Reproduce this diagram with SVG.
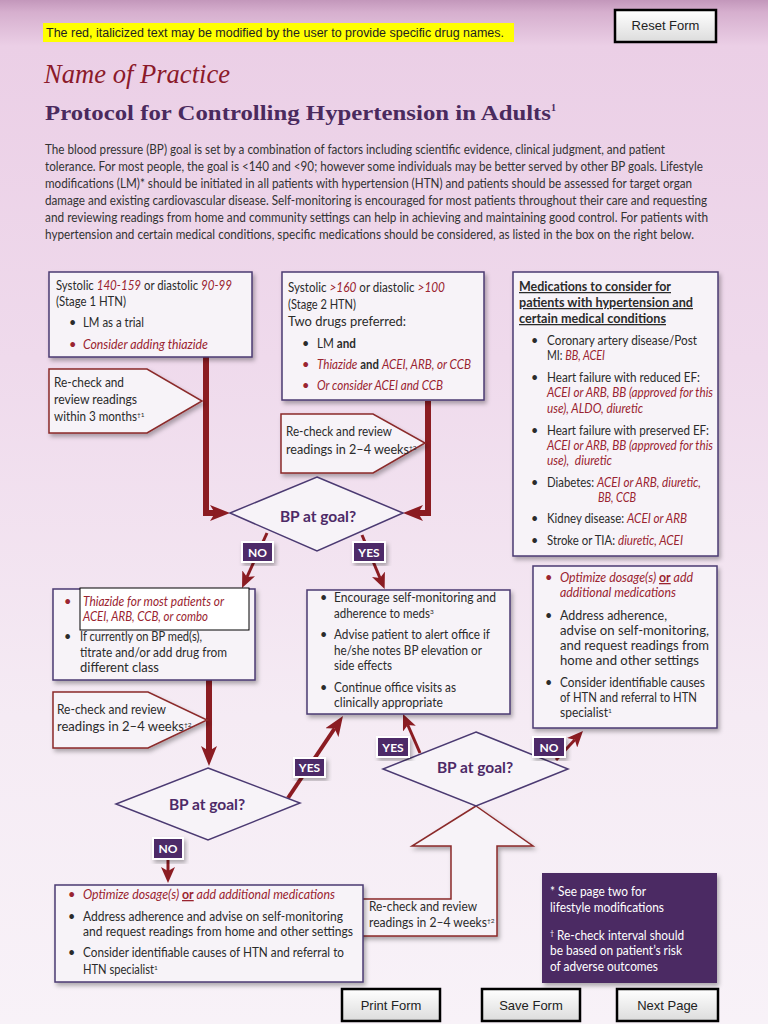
<svg xmlns="http://www.w3.org/2000/svg" width="768" height="1024" viewBox="0 0 768 1024">
<defs>
<linearGradient id="bg" x1="0" y1="0" x2="0" y2="1">
<stop offset="0" stop-color="#c397bb"/>
<stop offset="0.012" stop-color="#d6afce"/>
<stop offset="0.045" stop-color="#ebcfe6"/>
<stop offset="0.35" stop-color="#efdaec"/>
<stop offset="0.7" stop-color="#f5ebf4"/>
<stop offset="1" stop-color="#f8f2f8"/>
</linearGradient>
<linearGradient id="btn" x1="0" y1="0" x2="0" y2="1">
<stop offset="0" stop-color="#ffffff"/>
<stop offset="1" stop-color="#dcdcdc"/>
</linearGradient>
<filter id="sh" x="-10%" y="-10%" width="130%" height="130%">
<feDropShadow dx="2" dy="3" stdDeviation="2" flood-color="#000" flood-opacity="0.3"/>
</filter>
<marker id="ah" viewBox="0 0 20 16" refX="5" refY="8" markerWidth="20" markerHeight="16" markerUnits="userSpaceOnUse" orient="auto">
<path d="M0,0 L20,8 L0,16 L5,8 z" fill="#8b1c22"/>
</marker>
<marker id="as" viewBox="0 0 16 14" refX="4" refY="7" markerWidth="16" markerHeight="14" markerUnits="userSpaceOnUse" orient="auto">
<path d="M0,0 L16,7 L0,14 L4,7 z" fill="#8b1c22"/>
</marker>
<style>
.t{font-family:Lato,"Noto Sans",sans-serif;font-size:12.5px;fill:#2b2b2b}
.p{font-size:12.4px;fill:#333}
.r{fill:#9a2430;font-style:italic;font-size:12.8px}
.b{font-weight:bold}
.u{text-decoration:underline}
.sup{font-size:6.5px}
.box{fill:#f7f3f8;stroke:#4b3a72;stroke-width:1.5}
.pent{fill:#f7f3f8;stroke:#8b2a2a;stroke-width:1.5}
.dia{fill:#f7f3f8;stroke:#4b3a72;stroke-width:1.5}
.dt{font-family:Lato,"Noto Sans",sans-serif;font-weight:bold;font-size:15.5px;fill:#4d2a67;text-anchor:middle}
.lbr{fill:#4d2a67;stroke:#ffffff;stroke-width:2}
.lb{font-family:Lato,"Noto Sans",sans-serif;font-weight:bold;font-size:12px;fill:#ffffff;text-anchor:middle}
.thick{fill:none;stroke:#8b1c22;stroke-width:6;marker-end:url(#ah)}
.mid{fill:none;stroke:#8b1c22;stroke-width:4;marker-end:url(#ah)}
.thin{fill:none;stroke:#8b1c22;stroke-width:3;marker-end:url(#as)}
.btnr{fill:url(#btn);stroke:#000;stroke-width:2.5}
.bt{font-family:"Liberation Sans",Arial,sans-serif;font-size:13px;fill:#222;text-anchor:middle}
.fn{font-family:Lato,"Noto Sans",sans-serif;font-size:12.5px;fill:#ffffff}
</style>
</defs>

<rect x="0" y="0" width="768" height="1024" fill="url(#bg)"/>

<g id="header">
<rect x="43" y="23" width="471" height="19" fill="#ffff00"/>
<text x="46" y="37" font-family="'Liberation Sans',Arial,sans-serif" font-size="12" fill="#222" textLength="458" lengthAdjust="spacingAndGlyphs">The red, italicized text may be modified by the user to provide specific drug names.</text>
<text x="44" y="83" font-family="'Liberation Serif','Times New Roman',serif" font-size="27" font-style="italic" fill="#8b1a2a" textLength="186" lengthAdjust="spacingAndGlyphs">Name of Practice</text>
<text x="45" y="120" font-family="'Liberation Serif','Times New Roman',serif" font-size="22" font-weight="bold" fill="#4a2a5e"><tspan textLength="506" lengthAdjust="spacingAndGlyphs">Protocol for Controlling Hypertension in Adults</tspan><tspan font-size="10" dy="-9">1</tspan></text>
</g>

<g id="intro">
<text class="t p" x="45" y="154" textLength="620" lengthAdjust="spacingAndGlyphs">The blood pressure (BP) goal is set by a combination of factors including scientific evidence, clinical judgment, and patient</text>
<text class="t p" x="45" y="171" textLength="658" lengthAdjust="spacingAndGlyphs">tolerance. For most people, the goal is &lt;140 and &lt;90; however some individuals may be better served by other BP goals. Lifestyle</text>
<text class="t p" x="45" y="188" textLength="647" lengthAdjust="spacingAndGlyphs">modifications (LM)* should be initiated in all patients with hypertension (HTN) and patients should be assessed for target organ</text>
<text class="t p" x="45" y="205" textLength="662" lengthAdjust="spacingAndGlyphs">damage and existing cardiovascular disease. Self-monitoring is encouraged for most patients throughout their care and requesting</text>
<text class="t p" x="45" y="222" textLength="663" lengthAdjust="spacingAndGlyphs">and reviewing readings from home and community settings can help in achieving and maintaining good control. For patients with</text>
<text class="t p" x="45" y="239" textLength="649" lengthAdjust="spacingAndGlyphs">hypertension and certain medical conditions, specific medications should be considered, as listed in the box on the right below.</text>
</g>

<g id="connectors">
<path class="thick" d="M206,357 V513 H215"/>
<path class="thick" d="M428,401 V513 H418"/>
<path class="thin" d="M267,533 L247,577"/>
<path class="thin" d="M362,535 L380,578"/>
<path class="thick" d="M209,680 V751"/>
<path class="mid" d="M288,798 L334.6,728.5"/>
<path class="thin" d="M168,840 V871"/>
<path class="thin" d="M420,753 L407.8,725"/>
<path class="thin" d="M556,760 L574.8,739.8"/>
</g>

<g id="stage1">
<rect class="box" x="49" y="272" width="203" height="85" filter="url(#sh)"/>
<text class="t" x="56" y="290" textLength="176" lengthAdjust="spacingAndGlyphs">Systolic <tspan class="r">140-159</tspan> or diastolic <tspan class="r">90-99</tspan></text>
<text class="t" x="56" y="306" textLength="70" lengthAdjust="spacingAndGlyphs">(Stage 1 HTN)</text>
<text class="t" x="69" y="327">•</text>
<text class="t" x="83" y="327" textLength="61" lengthAdjust="spacingAndGlyphs">LM as a trial</text>
<text class="t r" x="69" y="349">•</text>
<text class="t r" x="83" y="349" textLength="125" lengthAdjust="spacingAndGlyphs">Consider adding thiazide</text>
</g>

<g id="recheck1">
<polygon class="pent" points="49,369 147,369 202,401 147,433 49,433" filter="url(#sh)"/>
<text class="t" x="54" y="387" textLength="70" lengthAdjust="spacingAndGlyphs">Re-check and</text>
<text class="t" x="54" y="404" textLength="83" lengthAdjust="spacingAndGlyphs">review readings</text>
<text class="t" x="54" y="421"><tspan textLength="83" lengthAdjust="spacingAndGlyphs">within 3 months</tspan><tspan class="sup" dy="-4">†1</tspan></text>
</g>

<g id="stage2">
<rect class="box" x="282" y="272" width="202" height="128" filter="url(#sh)"/>
<text class="t" x="288" y="292" textLength="157" lengthAdjust="spacingAndGlyphs">Systolic <tspan class="r">&gt;160</tspan> or diastolic <tspan class="r">&gt;100</tspan></text>
<text class="t" x="288" y="309" textLength="68" lengthAdjust="spacingAndGlyphs">(Stage 2 HTN)</text>
<text class="t" x="288" y="326" textLength="118" lengthAdjust="spacingAndGlyphs">Two drugs preferred:</text>
<text class="t" x="302" y="348">•</text>
<text class="t" x="317" y="348" textLength="39" lengthAdjust="spacingAndGlyphs">LM <tspan class="b">and</tspan></text>
<text class="t r" x="302" y="369">•</text>
<text class="t" x="317" y="369" textLength="154" lengthAdjust="spacingAndGlyphs"><tspan class="r">Thiazide</tspan> <tspan class="b">and</tspan> <tspan class="r">ACEI, ARB, or CCB</tspan></text>
<text class="t r" x="302" y="390">•</text>
<text class="t r" x="317" y="390" textLength="126" lengthAdjust="spacingAndGlyphs">Or consider ACEI and CCB</text>
</g>

<g id="recheck2">
<polygon class="pent" points="281,414 373,414 425,443 373,473 281,473" filter="url(#sh)"/>
<text class="t" x="286" y="436" textLength="106" lengthAdjust="spacingAndGlyphs">Re-check and review</text>
<text class="t" x="286" y="454"><tspan textLength="123" lengthAdjust="spacingAndGlyphs">readings in 2–4 weeks</tspan><tspan class="sup" dy="-4">†2</tspan></text>
</g>

<g id="medications">
<rect class="box" x="513" y="272" width="205" height="284" filter="url(#sh)"/>
<text class="t b u" x="519" y="291" textLength="152" lengthAdjust="spacingAndGlyphs">Medications to consider for</text>
<text class="t b u" x="519" y="307" textLength="174" lengthAdjust="spacingAndGlyphs">patients with hypertension and</text>
<text class="t b u" x="519" y="323" textLength="147" lengthAdjust="spacingAndGlyphs">certain medical conditions</text>
<text class="t" x="531" y="345">•</text>
<text class="t" x="547" y="345" textLength="150" lengthAdjust="spacingAndGlyphs">Coronary artery disease/Post</text>
<text class="t" x="547" y="360" textLength="58" lengthAdjust="spacingAndGlyphs">MI: <tspan class="r">BB, ACEI</tspan></text>
<text class="t" x="531" y="382">•</text>
<text class="t" x="547" y="382" textLength="153" lengthAdjust="spacingAndGlyphs">Heart failure with reduced EF:</text>
<text class="t r" x="547" y="397" textLength="166" lengthAdjust="spacingAndGlyphs">ACEI or ARB, BB (approved for this</text>
<text class="t r" x="547" y="413" textLength="96" lengthAdjust="spacingAndGlyphs">use), ALDO, diuretic</text>
<text class="t" x="531" y="435">•</text>
<text class="t" x="547" y="435" textLength="162" lengthAdjust="spacingAndGlyphs">Heart failure with preserved EF:</text>
<text class="t r" x="547" y="450" textLength="166" lengthAdjust="spacingAndGlyphs">ACEI or ARB, BB (approved for this</text>
<text class="t r" x="547" y="465" xml:space="preserve" textLength="65" lengthAdjust="spacingAndGlyphs">use),  diuretic</text>
<text class="t" x="531" y="487">•</text>
<text class="t" x="547" y="487" textLength="154" lengthAdjust="spacingAndGlyphs">Diabetes: <tspan class="r">ACEI or ARB, diuretic,</tspan></text>
<text class="t r" x="598" y="502" textLength="38" lengthAdjust="spacingAndGlyphs">BB, CCB</text>
<text class="t" x="531" y="523">•</text>
<text class="t" x="547" y="523" textLength="140" lengthAdjust="spacingAndGlyphs">Kidney disease: <tspan class="r">ACEI or ARB</tspan></text>
<text class="t" x="531" y="545">•</text>
<text class="t" x="547" y="545" textLength="136" lengthAdjust="spacingAndGlyphs">Stroke or TIA: <tspan class="r">diuretic, ACEI</tspan></text>
</g>

<g id="goal1">
<polygon class="dia" points="317,477 403,513 317,551 230,513"/>
<text class="dt" x="318" y="522">BP at goal?</text>
</g>

<g id="treat">
<rect class="box" x="53" y="589" width="202" height="91" filter="url(#sh)"/>
<rect x="80" y="588" width="169" height="42" fill="#ffffff" stroke="#000" stroke-width="1"/>
<text class="t r" x="64" y="606">•</text>
<text class="t r" x="83" y="606" textLength="141" lengthAdjust="spacingAndGlyphs">Thiazide for most patients or</text>
<text class="t r" x="83" y="621" textLength="125" lengthAdjust="spacingAndGlyphs">ACEI, ARB, CCB, or combo</text>
<text class="t" x="64" y="641">•</text>
<text class="t" x="80" y="641" textLength="122" lengthAdjust="spacingAndGlyphs">If currently on BP med(s),</text>
<text class="t" x="80" y="657" textLength="147" lengthAdjust="spacingAndGlyphs">titrate and/or add drug from</text>
<text class="t" x="80" y="672" textLength="79" lengthAdjust="spacingAndGlyphs">different class</text>
</g>

<g id="maintain">
<rect class="box" x="307" y="590" width="203" height="124" filter="url(#sh)"/>
<text class="t" x="320" y="602">•</text>
<text class="t" x="334" y="602" textLength="162" lengthAdjust="spacingAndGlyphs">Encourage self-monitoring and</text>
<text class="t" x="334" y="618"><tspan textLength="96" lengthAdjust="spacingAndGlyphs">adherence to meds</tspan><tspan class="sup" dy="-4">3</tspan></text>
<text class="t" x="320" y="639">•</text>
<text class="t" x="334" y="639" textLength="156" lengthAdjust="spacingAndGlyphs">Advise patient to alert office if</text>
<text class="t" x="334" y="655" textLength="148" lengthAdjust="spacingAndGlyphs">he/she notes BP elevation or</text>
<text class="t" x="334" y="670" textLength="58" lengthAdjust="spacingAndGlyphs">side effects</text>
<text class="t" x="320" y="692">•</text>
<text class="t" x="334" y="692" textLength="122" lengthAdjust="spacingAndGlyphs">Continue office visits as</text>
<text class="t" x="334" y="707" textLength="109" lengthAdjust="spacingAndGlyphs">clinically appropriate</text>
</g>

<g id="optimize-right">
<rect class="box" x="533" y="566" width="184" height="162" filter="url(#sh)"/>
<text class="t r" x="545" y="582">•</text>
<text class="t r" x="560" y="582" textLength="133" lengthAdjust="spacingAndGlyphs">Optimize dosage(s) <tspan font-style="normal" class="b u">or</tspan> add</text>
<text class="t r" x="560" y="597" textLength="116" lengthAdjust="spacingAndGlyphs">additional medications</text>
<text class="t" x="545" y="620">•</text>
<text class="t" x="560" y="620" textLength="107" lengthAdjust="spacingAndGlyphs">Address adherence,</text>
<text class="t" x="560" y="635" textLength="149" lengthAdjust="spacingAndGlyphs">advise on self-monitoring,</text>
<text class="t" x="560" y="650" textLength="149" lengthAdjust="spacingAndGlyphs">and request readings from</text>
<text class="t" x="560" y="665" textLength="139" lengthAdjust="spacingAndGlyphs">home and other settings</text>
<text class="t" x="545" y="687">•</text>
<text class="t" x="560" y="687" textLength="145" lengthAdjust="spacingAndGlyphs">Consider identifiable causes</text>
<text class="t" x="560" y="702" textLength="137" lengthAdjust="spacingAndGlyphs">of HTN and referral to HTN</text>
<text class="t" x="560" y="717"><tspan textLength="48" lengthAdjust="spacingAndGlyphs">specialist</tspan><tspan class="sup" dy="-4">1</tspan></text>
</g>

<g id="recheck3">
<polygon class="pent" points="53,692 148,692 207,720 148,748 53,748" filter="url(#sh)"/>
<text class="t" x="57" y="714" textLength="109" lengthAdjust="spacingAndGlyphs">Re-check and review</text>
<text class="t" x="57" y="731"><tspan textLength="127" lengthAdjust="spacingAndGlyphs">readings in 2–4 weeks</tspan><tspan class="sup" dy="-4">†2</tspan></text>
</g>

<g id="goal2">
<polygon class="dia" points="208,768 300,803 208,840 116,804"/>
<text class="dt" x="207" y="810">BP at goal?</text>
</g>

<g id="recheck4">
<polygon class="pent" points="476,806 533,846 497,846 497,936 350,936 350,899 451,899 451,846 412,846" filter="url(#sh)"/>
<text class="t" x="369" y="911" textLength="108" lengthAdjust="spacingAndGlyphs">Re-check and review</text>
<text class="t" x="369" y="927"><tspan textLength="118" lengthAdjust="spacingAndGlyphs">readings in 2–4 weeks</tspan><tspan class="sup" dy="-4">†2</tspan></text>
</g>

<g id="goal3">
<polygon class="dia" points="476,732 568,769 476,806 383,769"/>
<text class="dt" x="475" y="773">BP at goal?</text>
</g>

<g id="optimize-left">
<rect class="box" x="55" y="885" width="308" height="97" filter="url(#sh)"/>
<text class="t r" x="68" y="899">•</text>
<text class="t r" x="83" y="899" textLength="252" lengthAdjust="spacingAndGlyphs">Optimize dosage(s) <tspan font-style="normal" class="b u">or</tspan> add additional medications</text>
<text class="t" x="68" y="921">•</text>
<text class="t" x="83" y="921" textLength="260" lengthAdjust="spacingAndGlyphs">Address adherence and advise on self-monitoring</text>
<text class="t" x="83" y="936" textLength="270" lengthAdjust="spacingAndGlyphs">and request readings from home and other settings</text>
<text class="t" x="68" y="957">•</text>
<text class="t" x="83" y="957" textLength="261" lengthAdjust="spacingAndGlyphs">Consider identifiable causes of HTN and referral to</text>
<text class="t" x="83" y="974"><tspan textLength="71" lengthAdjust="spacingAndGlyphs">HTN specialist</tspan><tspan class="sup" dy="-4">1</tspan></text>
</g>

<g id="labels">
<rect class="lbr" x="242" y="542" width="31" height="20" filter="url(#sh)"/>
<text class="lb" x="257.5" y="556.5">NO</text>
<rect class="lbr" x="353" y="542" width="32" height="20" filter="url(#sh)"/>
<text class="lb" x="369" y="556.5">YES</text>
<rect class="lbr" x="294" y="758" width="31" height="19" filter="url(#sh)"/>
<text class="lb" x="309.5" y="772">YES</text>
<rect class="lbr" x="153" y="838" width="30" height="21" filter="url(#sh)"/>
<text class="lb" x="168" y="853">NO</text>
<rect class="lbr" x="377" y="737" width="32" height="20" filter="url(#sh)"/>
<text class="lb" x="393" y="751.5">YES</text>
<rect class="lbr" x="533" y="737" width="32" height="20" filter="url(#sh)"/>
<text class="lb" x="549" y="751.5">NO</text>
</g>

<g id="footnotes">
<rect x="542" y="873" width="175" height="110" fill="#4b2a63" filter="url(#sh)"/>
<text class="fn" x="550" y="896" textLength="96" lengthAdjust="spacingAndGlyphs">* See page two for</text>
<text class="fn" x="550" y="912" textLength="114" lengthAdjust="spacingAndGlyphs">lifestyle modifications</text>
<text class="fn" x="550" y="940"><tspan font-size="7" dy="-4">†</tspan><tspan dy="4" textLength="130" lengthAdjust="spacingAndGlyphs"> Re-check interval should</tspan></text>
<text class="fn" x="550" y="955" textLength="132" lengthAdjust="spacingAndGlyphs">be based on patient’s risk</text>
<text class="fn" x="550" y="971" textLength="108" lengthAdjust="spacingAndGlyphs">of adverse outcomes</text>
</g>

<g id="buttons">
<g id="btn-reset"><rect class="btnr" x="615" y="10" width="101" height="32"/><text class="bt" x="665.5" y="30">Reset Form</text></g>
<g id="btn-print"><rect class="btnr" x="342" y="989" width="98" height="32"/><text class="bt" x="391" y="1010">Print Form</text></g>
<g id="btn-save"><rect class="btnr" x="482" y="989" width="98" height="32"/><text class="bt" x="531" y="1010">Save Form</text></g>
<g id="btn-next"><rect class="btnr" x="617" y="989" width="101" height="32"/><text class="bt" x="667.5" y="1010">Next Page</text></g>
</g>
</svg>
